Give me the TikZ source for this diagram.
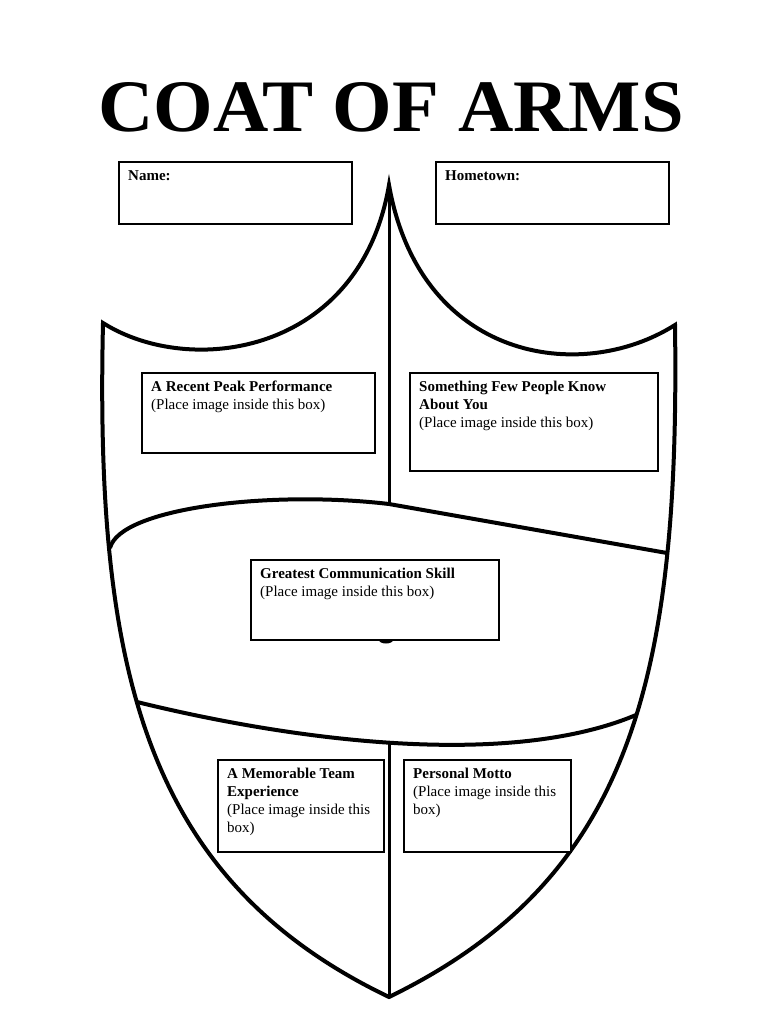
\documentclass[tikz,border=0pt]{standalone}
\usepackage{fontspec}
\setmainfont{Liberation Serif}
\begin{document}
\begin{tikzpicture}[x=1pt,y=-1pt,
  shield/.style={line width=4pt, line join=miter},
  divider/.style={line width=3pt},
  band/.style={line width=4pt},
  box/.style={draw, line width=2pt, fill=white, inner sep=0pt, anchor=north west},
  boxtext/.style={anchor=north west, inner sep=0pt, align=left, font=\fontsize{15}{18}\selectfont}]
\fill[white] (0,0) rectangle (768,1024);
\node[inner sep=0pt, font=\fontsize{74}{80}\selectfont\bfseries] (title) at (391,107) {\scalebox{1.035}[1]{COAT OF ARMS}};

\coordinate (spike) at (389,185);
\coordinate (tl) at (103,323);
\coordinate (tr) at (675,325);
\coordinate (tip) at (389,997);
\coordinate (ul) at (110,548);
\coordinate (um) at (389,504);
\coordinate (ur) at (667,553);
\coordinate (ll) at (137,702);
\coordinate (lm) at (389,742);
\coordinate (lr) at (636,715);

% shield outline
\draw[shield] (spike) .. controls (360,355) and (190,378) .. (tl)
  .. controls (95,670) and (145,880) .. (tip)
  .. controls (630,880) and (680,680) .. (tr)
  .. controls (580,385) and (420,360) .. cycle;

% bands
\draw[band] (ul) .. controls (120,508) and (270,490) .. (um) -- (ur);
\draw[band] (ll) .. controls (300,742) and (510,768) .. (lr);

% vertical divider
\draw[divider] (spike) -- (um);
\draw[divider] (lm) -- (tip);
\fill (386,640) ellipse (7 and 3.5);

% boxes
\node[box, minimum width=233, minimum height=62] (name) at (118,161) {};
\node[box, minimum width=233, minimum height=62] (home) at (435,161) {};
\node[box, minimum width=233, minimum height=80] (peak) at (141,372) {};
\node[box, minimum width=248, minimum height=98] (few) at (409,372) {};
\node[box, minimum width=248, minimum height=80] (comm) at (250,559) {};
\node[box, minimum width=166, minimum height=92] (team) at (217,759) {};
\node[box, minimum width=167, minimum height=92] (motto) at (403,759) {};

\node[boxtext] (nameT) at ([shift={(10,9)}]name.north west) {\textbf{Name:}};
\node[boxtext] (homeT) at ([shift={(10,9)}]home.north west) {\textbf{Hometown:}};
\node[boxtext] (peakT) at ([shift={(10,9)}]peak.north west) {\textbf{A Recent Peak Performance}\\(Place image inside this box)};
\node[boxtext] (fewT) at ([shift={(10,9)}]few.north west) {\textbf{Something Few People Know}\\\textbf{About You}\\(Place image inside this box)};
\node[boxtext] (commT) at ([shift={(10,9)}]comm.north west) {\textbf{Greatest Communication Skill}\\(Place image inside this box)};
\node[boxtext] (teamT) at ([shift={(10,9)}]team.north west) {\textbf{A Memorable Team}\\\textbf{Experience}\\(Place image inside this\\box)};
\node[boxtext] (mottoT) at ([shift={(10,9)}]motto.north west) {\textbf{Personal Motto}\\(Place image inside this\\box)};
\end{tikzpicture}
\end{document}
